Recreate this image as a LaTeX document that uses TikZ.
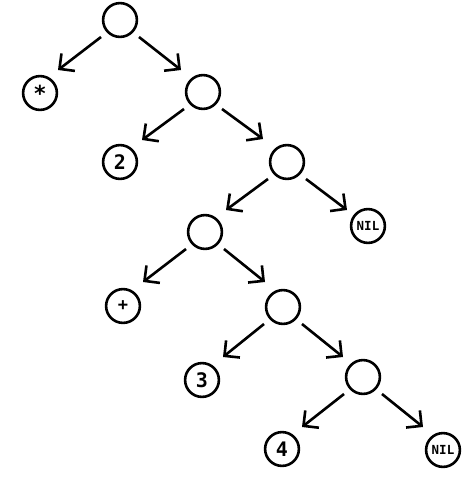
\documentclass[tikz,border=0pt]{standalone}
\usepackage{fontspec}
\newfontfamily\treefont{DejaVu Sans Mono}
\usetikzlibrary{arrows.meta,calc}
\begin{document}
\begin{tikzpicture}[x=1pt,y=-1pt,
  nd/.style={circle,draw,line width=2.6pt,minimum size=33.8pt,inner sep=0pt,
    font=\treefont\bfseries\fontsize{20}{20}\selectfont},
  nilnd/.style={nd,font=\treefont\bfseries\fontsize{12.5}{12.5}\selectfont},
  symnd/.style={nd,font=\treefont\bfseries\fontsize{17}{17}\selectfont},
  starnd/.style={nd,font=\treefont\bfseries\fontsize{22}{22}\selectfont},
  arr/.style={line width=2.6pt,-{Straight Barb[length=11pt,width=22pt]}}]
\useasboundingbox (0,0) rectangle (474,482);
% nodes
\node[nd] (root) at (120,20) {};
\node[starnd] (star) at (40,93) {\raisebox{-0.3em}{*}};
\node[nd] (a) at (203,92) {};
\node[nd] (two) at (120,162) {2};
\node[nd] (b) at (287,162) {};
\node[nilnd] (nil1) at (368,226) {NIL};
\node[nd] (c) at (205,232) {};
\node[symnd] (plus) at (123,306) {+};
\node[nd] (d) at (283,307) {};
\node[nd] (three) at (202,380) {3};
\node[nd] (e) at (363,377) {};
\node[nd] (four) at (282,449) {4};
\node[nilnd] (nil2) at (443,450) {NIL};
% connectors
\draw[arr] ($(root)+(-19,17)$) -- ($(star)+(18,-23)$);
\draw[arr] ($(root)+(19,17)$) -- ($(a)+(-22,-22)$);
\draw[arr] ($(a)+(-19,17)$) -- ($(two)+(22,-22)$);
\draw[arr] ($(a)+(19,17)$) -- ($(b)+(-24,-23)$);
\draw[arr] ($(b)+(-19,17)$) -- ($(c)+(21,-22)$);
\draw[arr] ($(b)+(19,17)$) -- ($(nil1)+(-21,-16)$);
\draw[arr] ($(c)+(-19,17)$) -- ($(plus)+(20,-24)$);
\draw[arr] ($(c)+(19,17)$) -- ($(d)+(-18,-25)$);
\draw[arr] ($(d)+(-19,17)$) -- ($(three)+(21,-23)$);
\draw[arr] ($(d)+(19,17)$) -- ($(e)+(-20,-20)$);
\draw[arr] ($(e)+(-19,17)$) -- ($(four)+(20,-22)$);
\draw[arr] ($(e)+(19,17)$) -- ($(nil2)+(-20,-23)$);
\end{tikzpicture}
\end{document}
